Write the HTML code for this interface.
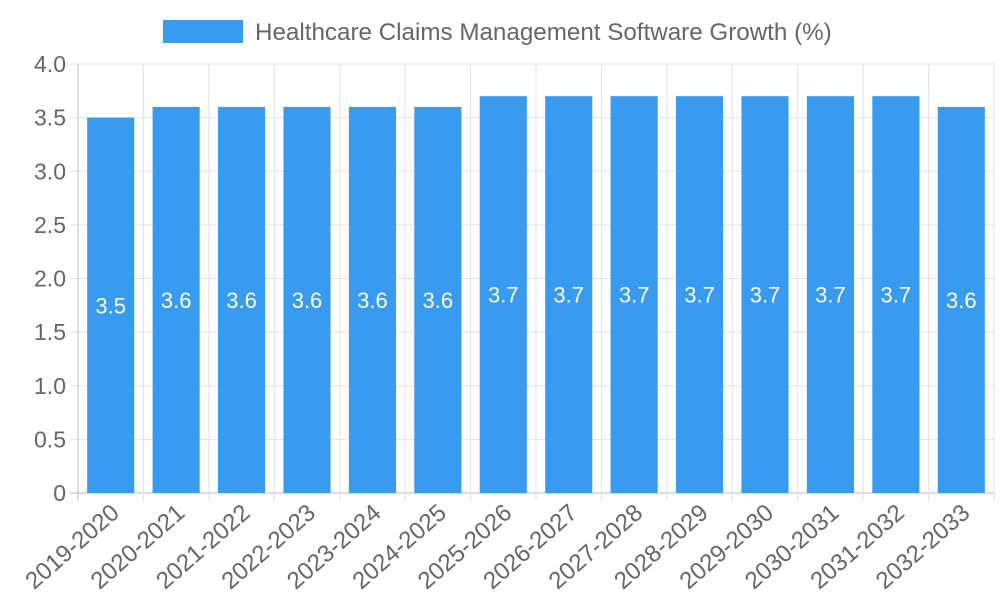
<!DOCTYPE html>
<html><head><meta charset="utf-8"><style>
html,body{margin:0;padding:0;background:#fff;}
svg{display:block;font-family:"Liberation Sans",Arial,sans-serif;}
</style></head><body>
<svg id="chart" width="1000" height="600">
<g id="legend">
<rect x="163" y="20" width="80" height="23" fill="#389bf0"></rect>
<text x="255" y="40" font-size="24.2" fill="#666">Healthcare Claims Management Software Growth (%)</text>
</g>
<g id="grid"></g><g id="bars"></g><g id="labels"></g><g id="axes"></g>
</svg>
<script>
const categories=["2019-2020","2020-2021","2021-2022","2022-2023","2023-2024","2024-2025","2025-2026","2026-2027","2027-2028","2028-2029","2029-2030","2030-2031","2031-2032","2032-2033"];
const values=[3.5,3.6,3.6,3.6,3.6,3.6,3.7,3.7,3.7,3.7,3.7,3.7,3.7,3.6];
const yTicks=[0,0.5,1.0,1.5,2.0,2.5,3.0,3.5,4.0];
const yTickLabels=["0","0.5","1.0","1.5","2.0","2.5","3.0","3.5","4.0"];
const NS="http://www.w3.org/2000/svg";
const L=78,R=994,T=64,B=493,yMax=4;
const bw=(R-L)/categories.length;
const y=v=>B-(v/yMax)*(B-T);
const x=i=>L+bw*i;
function mk(tag,attrs,parent){const e=document.createElementNS(NS,tag);for(const k in attrs)e.setAttribute(k,attrs[k]);document.getElementById(parent).appendChild(e);return e;}
yTicks.forEach((t,i)=>{
 const g=mk('line',{x1:L-8,x2:R,y1:y(t),y2:y(t),stroke:i===0?'#bbb':'#e2e2e2','stroke-width':1},'grid');
 
 
 const tx=mk('text',{x:L-12,y:y(t)+8,'text-anchor':'end','font-size':23,fill:'#666'},'axes');
 tx.textContent=yTickLabels[i];
 
 
});
for(let i=0;i<=categories.length;i++){
 const g=mk('line',{x1:x(i),x2:x(i),y1:T,y2:B+8,stroke:i===0?'#bbb':'#e2e2e2','stroke-width':1},'grid');
 
 
}
categories.forEach((c,i)=>{
 const w=bw*0.72,cx=x(i)+bw/2;
 const r=mk('rect',{x:cx-w/2,y:y(values[i]),width:w,height:B-y(values[i]),fill:'#389bf0'},'bars');
 
 
 const t=mk('text',{x:cx,y:(y(values[i])+B)/2+8,'text-anchor':'middle','font-size':22,fill:'#fff'},'labels');
 t.textContent=values[i].toFixed(1);
 
 
 const xl=mk('text',{x:0,y:0,'text-anchor':'end','font-size':24,fill:'#666',transform:`translate(${cx+10},${B+22}) rotate(-41)`},'axes');
 xl.textContent=c;
 
 
});
</script>
</body></html>
